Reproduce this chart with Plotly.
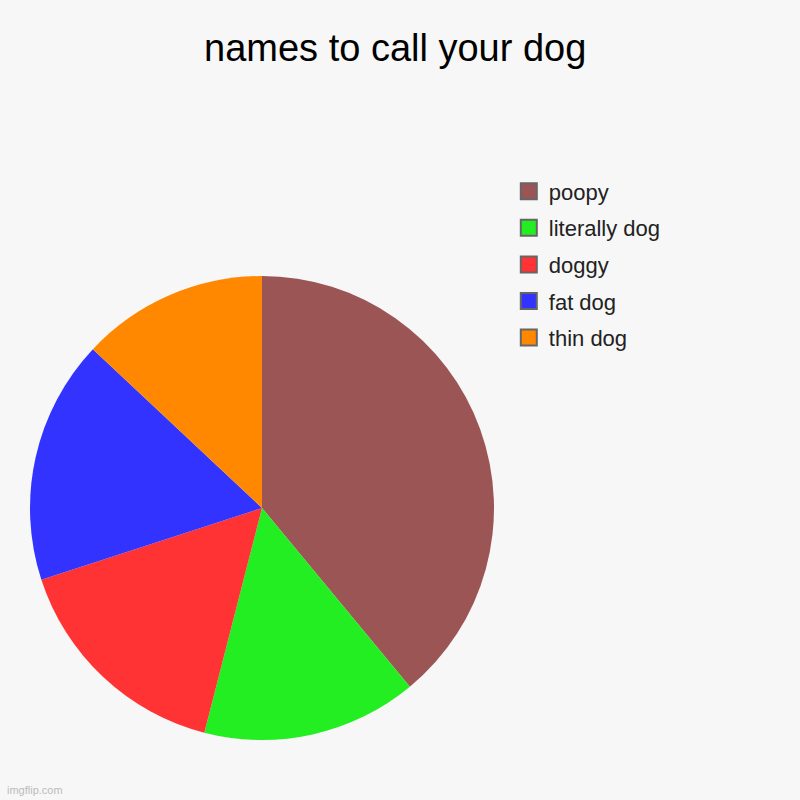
import plotly.graph_objects as go

labels = ["poopy", "literally dog", "doggy", "fat dog", "thin dog"]
values = [39, 15, 16, 17, 13]
colors = ["#9b5555", "#22ee22", "#ff3333", "#3333ff", "#ff8800"]

fig = go.Figure()
fig.add_trace(go.Pie(
    labels=labels,
    values=values,
    sort=False,
    direction="clockwise",
    rotation=0,
    marker=dict(colors=colors, line=dict(width=0)),
    textinfo="none",
    hoverinfo="label+percent",
    showlegend=False,
    domain=dict(x=[0.0375, 0.6175], y=[0.075, 0.655]),
))

# legend entries drawn as empty square-marker traces so the boxes look like the original
for name, col in zip(labels, colors):
    fig.add_trace(go.Scatter(
        x=[None], y=[None], mode="markers", name=name, legendgroup=name,
        marker=dict(symbol="square", size=16, color=col,
                    line=dict(color="#666666", width=2)),
    ))

fig.update_layout(
    width=800,
    height=800,
    paper_bgcolor="#f7f7f7",
    plot_bgcolor="#f7f7f7",
    margin=dict(l=0, r=0, t=0, b=0),
    font=dict(family="Liberation Sans, Arial, sans-serif", color="#222"),
    xaxis=dict(visible=False),
    yaxis=dict(visible=False),
    title=dict(text="names to call your dog", x=0.494, xanchor="center",
               y=0.94, yanchor="middle",
               font=dict(size=38, color="#000")),
    legend=dict(x=0.636, y=0.787, xanchor="left", yanchor="top",
                font=dict(size=22, color="#222"), traceorder="grouped",
                itemsizing="trace", tracegroupgap=5,
                bgcolor="rgba(0,0,0,0)"),
    annotations=[dict(text="imgflip.com", x=0.006, y=0.012, xref="paper", yref="paper",
                      xanchor="left", yanchor="middle", showarrow=False,
                      font=dict(size=11, color="#bbbbbb"))],
)

fig.write_html("out.html", config={"displayModeBar": False},
               post_script="document.body.style.margin='0';")
